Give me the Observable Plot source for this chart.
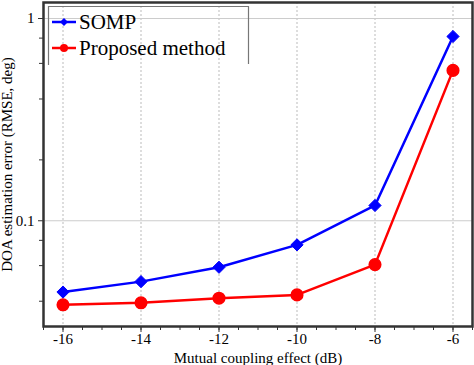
<!DOCTYPE html>
<html>
<head>
<meta charset="utf-8">
<script src="https://cdn.jsdelivr.net/npm/d3@7"></script>
<script src="https://cdn.jsdelivr.net/npm/@observablehq/plot@0.6"></script>
<style>
  html, body { margin: 0; padding: 0; background: #fff; }
  #wrap { position: relative; width: 474px; height: 365px; font-family: "Liberation Serif", "Times New Roman", serif; }
  #legend { position: absolute; left: 0; top: 0; pointer-events: none; }
  #wrap svg:not(#legend) text { font-size: 15px; font-family: "Liberation Serif", "Times New Roman", serif; }
</style>
</head>
<body>
<div id="wrap"></div>
<script>
// ---- data ----
const couplingDb = [-16, -14, -12, -10, -8, -6];
const sompRmse = [0.0444, 0.050, 0.0589, 0.076, 0.119, 0.815];
const proposedRmse = [0.0384, 0.0393, 0.0414, 0.043, 0.0607, 0.554];
const seriesNames = ["SOMP", "Proposed method"];
const seriesColors = ["#0000ff", "#ff0000"];
const xTicks = [-16, -14, -12, -10, -8, -6];
const xTickLabels = ["-16", "-14", "-12", "-10", "-8", "-6"];
const xMinorTicks = [-16.5, -16, -15.5, -15, -14.5, -14, -13.5, -13, -12.5, -12, -11.5, -11, -10.5, -10, -9.5, -9, -8.5, -8, -7.5, -7, -6.5, -6, -5.5];
const yTicks = [1, 0.1];
const yTickLabels = ["1", "0.1"];
const yMinorTicks = [0.04, 0.06, 0.08, 0.2, 0.4, 0.6, 0.8];
const xLabel = "Mutual coupling effect (dB)";
const yLabel = "DOA estimation error (RMSE, deg)";

const somp = couplingDb.map((x, i) => ({x, y: sompRmse[i]}));
const prop = couplingDb.map((x, i) => ({x, y: proposedRmse[i]}));

const chart = Plot.plot({
  width: 474,
  height: 365,
  marginLeft: 43,
  marginRight: 2,
  marginTop: 2,
  marginBottom: 39,
  style: {fontFamily: "'Liberation Serif', 'Times New Roman', serif", fontSize: "15px", color: "#000", background: "#fff", overflow: "visible"},
  x: {domain: [-16.5, -5.5]},
  y: {type: "log", domain: [0.03, 1.2]},
  marks: [
    Plot.gridX(xTicks, {stroke: "#bbb", strokeOpacity: 1, strokeDasharray: "2,2", strokeWidth: 1}),
    Plot.gridY(yTicks, {stroke: "#ccc", strokeOpacity: 1, strokeWidth: 1}),
    Plot.axisX(xMinorTicks, {tickSize: 4, tickFormat: () => "", stroke: "#333", label: null}),
    Plot.axisX(xTicks, {tickSize: 6, tickPadding: 1, stroke: "#333", fill: "#000",
      tickFormat: (d) => xTickLabels[xTicks.indexOf(d)],
      label: xLabel, labelAnchor: "center", labelArrow: "none", labelOffset: 36}),
    Plot.axisY(yMinorTicks, {tickSize: 4, tickFormat: () => "", stroke: "#333", label: null}),
    Plot.axisY(yTicks, {tickSize: 5, tickPadding: 4, stroke: "#333", fill: "#000",
      tickFormat: (d) => yTickLabels[yTicks.indexOf(d)],
      label: yLabel, labelAnchor: "center", labelArrow: "none", labelOffset: 42}),
    Plot.frame({stroke: "#333", strokeWidth: 2.5}),
    Plot.line(somp, {x: "x", y: "y", stroke: seriesColors[0], strokeWidth: 2.5}),
    Plot.dot(somp, {x: "x", y: "y", symbol: "diamond2", r: 5.5, fill: seriesColors[0], stroke: seriesColors[0], strokeWidth: 1}),
    Plot.line(prop, {x: "x", y: "y", stroke: seriesColors[1], strokeWidth: 2.5}),
    Plot.dot(prop, {x: "x", y: "y", r: 5.8, fill: seriesColors[1], stroke: seriesColors[1]})
  ]
});
const wrap = document.getElementById("wrap");
wrap.appendChild(chart);

// ---- legend overlay ----
const ns = "http://www.w3.org/2000/svg";
const lg = document.createElementNS(ns, "svg");
lg.setAttribute("id", "legend");
lg.setAttribute("width", 474);
lg.setAttribute("height", 365);
const box = document.createElementNS(ns, "path");
box.setAttribute("d", "M48.5,65 L48.5,6.5 L248.5,6.5 L248.5,64");
box.setAttribute("fill", "none");
box.setAttribute("stroke", "#777");
box.setAttribute("stroke-width", "1.2");
lg.appendChild(box);
seriesNames.forEach((name, i) => {
  const cy = 22 + i * 26;
  const ln = document.createElementNS(ns, "line");
  ln.setAttribute("x1", 52); ln.setAttribute("x2", 76);
  ln.setAttribute("y1", cy); ln.setAttribute("y2", cy);
  ln.setAttribute("stroke", seriesColors[i]); ln.setAttribute("stroke-width", 2.5);
  lg.appendChild(ln);
  if (i === 0) {
    const p = document.createElementNS(ns, "path");
    p.setAttribute("d", `M64,${cy-4} L68,${cy} L64,${cy+4} L60,${cy} Z`);
    p.setAttribute("fill", seriesColors[i]);
    lg.appendChild(p);
  } else {
    const c = document.createElementNS(ns, "circle");
    c.setAttribute("cx", 64); c.setAttribute("cy", cy); c.setAttribute("r", 4);
    c.setAttribute("fill", seriesColors[i]);
    lg.appendChild(c);
  }
  const t = document.createElementNS(ns, "text");
  t.setAttribute("x", 79); t.setAttribute("y", cy);
  t.setAttribute("dy", "0.35em");
  t.setAttribute("font-family", "'Liberation Serif', 'Times New Roman', serif");
  t.setAttribute("font-size", "21");
  t.setAttribute("fill", "#000");
  t.textContent = name;
  lg.appendChild(t);
});
wrap.appendChild(lg);
</script>
</body>
</html>
